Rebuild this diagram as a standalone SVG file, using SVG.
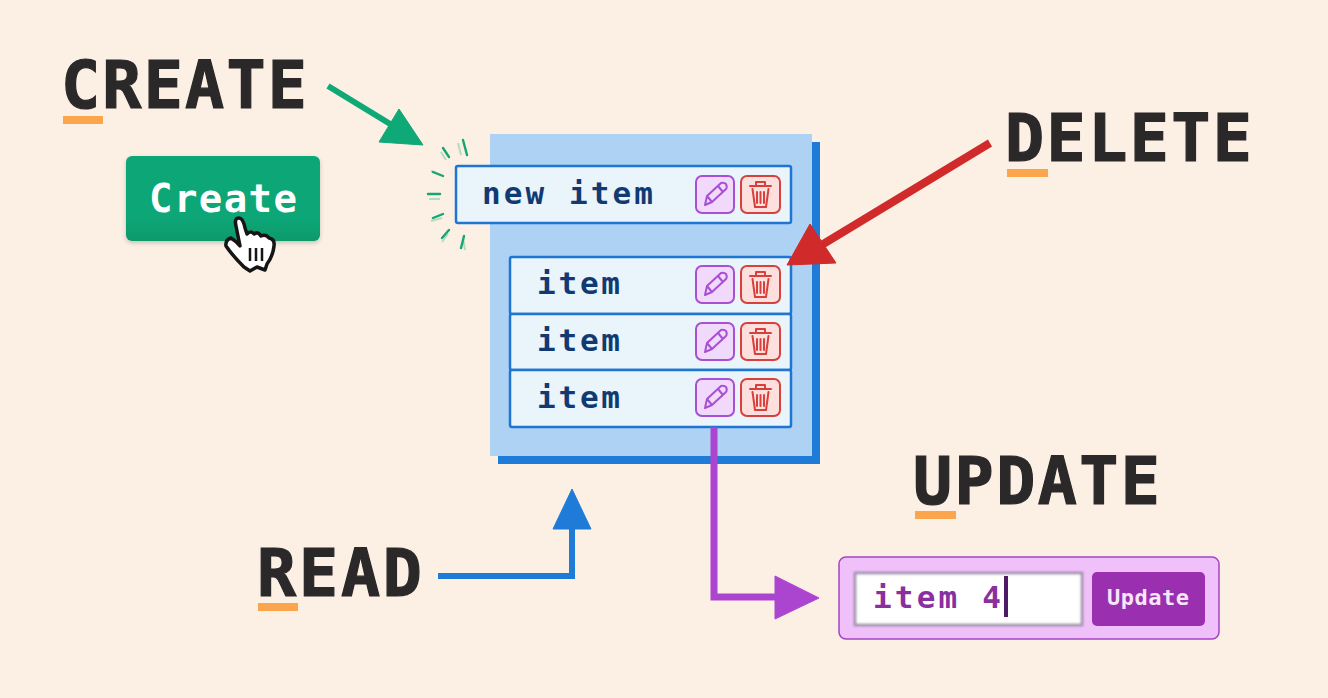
<svg xmlns="http://www.w3.org/2000/svg" width="1328" height="698" viewBox="0 0 1328 698">
<style>
.h{font-family:"DejaVu Sans Mono","Liberation Mono",monospace;font-weight:700;font-size:65px;fill:#2b2829;stroke:#2b2829;stroke-width:1.2}
.m{font-family:"DejaVu Sans Mono","Liberation Mono",monospace;font-weight:700}
.it{font-size:31px;fill:#123a72}
.row{fill:#e9f4fb;stroke:#1f75d2;stroke-width:2.5}
.ul{fill:#fba64c}
.pb{fill:#f0d9fb;stroke:#a94fd4;stroke-width:2}
.pi{fill:none;stroke:#a94fd4;stroke-width:2;stroke-linejoin:round}
.db{fill:#fde0de;stroke:#d8403c;stroke-width:2}
.di{fill:none;stroke:#d8403c;stroke-width:2;stroke-linejoin:round;stroke-linecap:round}
.sp{stroke:#14a673;stroke-width:2.4;stroke-linecap:round}
.sq{stroke:#14a673;stroke-width:2;opacity:.3}
</style>
<defs>
<linearGradient id="g" x1="0" y1="0" x2="0" y2="1"><stop offset="0" stop-color="#0ea777"/><stop offset=".7" stop-color="#0ea777"/><stop offset="1" stop-color="#0b9a6b"/></linearGradient>
<filter id="s" x="-10%" y="-10%" width="120%" height="130%"><feDropShadow dx="0" dy="2" stdDeviation="2" flood-color="#000" flood-opacity=".2"/></filter>
<filter id="b" x="-5%" y="-10%" width="110%" height="120%"><feGaussianBlur stdDeviation=".9"/></filter>
<g id="icons">
<rect class="pb" x="696" y="176" width="38" height="37" rx="6"/>
<path class="pi" d="M705 205 L707 196 L721 183 Q724 182 726 184 Q727.500 187 726 189 L712 202 Z M707 196 L712 202 M718 186 L723 192"/>
<rect class="db" x="741" y="176" width="39" height="37" rx="6"/>
<path class="di" d="M750 186 H771 M756 186 V182 H765 V186 M752.500 189 L755 207 H766 L768.500 189 M757 192 V203 M760.500 192 V203 M764 192 V203"/>
</g>
</defs>
<rect width="1328" height="698" fill="#fcf0e5"/>

<g id="create-label"><text class="h" x="61" y="108" textLength="246" lengthAdjust="spacing">CREATE</text><rect class="ul" x="63" y="116" width="40" height="8"/></g>
<g id="delete-label"><text class="h" x="1005" y="161" textLength="247" lengthAdjust="spacing">DELETE</text><rect class="ul" x="1007" y="169" width="41" height="8"/></g>
<g id="read-label"><text class="h" x="257" y="596" textLength="165" lengthAdjust="spacing">READ</text><rect class="ul" x="258" y="603" width="40" height="8"/></g>
<g id="update-label"><text class="h" x="913" y="504" textLength="247" lengthAdjust="spacing">UPDATE</text><rect class="ul" x="915" y="511" width="41" height="8"/></g>

<g id="create-button">
<rect x="126" y="156" width="194" height="85" rx="6" fill="url(#g)" filter="url(#s)"/>
<text class="m" x="149" y="212" font-size="39" fill="#fff" textLength="148" lengthAdjust="spacing">Create</text>
<path d="M236 226 Q234 218 239 218 Q243 218 245 228 L247 234 Q251 230 254 234 Q258 231 261 236 Q266 234 269 238 Q275 239 274 246 Q273 256 267 264 L265 270 L257 267 L250 271 L244 267 Q232 255 226 246 Q225 240 231 238 Q236 241 240 246 Z" fill="#fff" stroke="#151515" stroke-width="3.500" stroke-linejoin="round"/>
<path d="M250 248 V261 M256 248 V261 M262 248 V261" stroke="#151515" stroke-width="2.500" fill="none"/>
</g>

<g id="list">
<rect x="498" y="142" width="322" height="322" fill="#1f7bd8"/>
<rect x="490" y="134" width="322" height="322" fill="#aed2f4"/>
</g>

<g id="sparks">
<path class="sq" d="M458 143 L461 155 M441 152 L446 160 M431 171 L441 175 M429 199 L440 199 M431 221 L442 218 M442 242 L448 234 M465 250 L463 238"/>
<path class="sp" d="M463 140 L467 155 M443 148 L449 157 M433 172 L443 176 M428 194 L440 194 M433 218 L443 214 M442 238 L449 230 M461 248 L464 236"/>
</g>

<g id="row-new"><rect class="row" x="456" y="166" width="335" height="57" rx="2"/><text class="m it" x="482" y="204" textLength="171" lengthAdjust="spacing">new item</text><use href="#icons"/></g>
<g id="row-1"><rect class="row" x="510" y="257" width="281" height="57" rx="2"/><text class="m it" x="537" y="294" textLength="83" lengthAdjust="spacing">item</text><use href="#icons" y="90"/></g>
<g id="row-2"><rect class="row" x="510" y="314" width="281" height="56" rx="2"/><text class="m it" x="537" y="351" textLength="83" lengthAdjust="spacing">item</text><use href="#icons" y="147"/></g>
<g id="row-3"><rect class="row" x="510" y="370" width="281" height="57" rx="2"/><text class="m it" x="537" y="408" textLength="83" lengthAdjust="spacing">item</text><use href="#icons" y="203"/></g>

<g id="update-form">
<rect x="839" y="557" width="380" height="82" rx="7" fill="#efc0f9" stroke="#a544c4" stroke-width="1.500"/>
<rect x="855" y="573" width="227" height="52" fill="#fff"/>
<rect x="855" y="573" width="227" height="52" fill="none" stroke="#9a8ca6" stroke-width="2.500" filter="url(#b)"/>
<text class="m" x="873" y="608" font-size="31" fill="#8a2f9e" textLength="128" lengthAdjust="spacing">item 4</text>
<rect x="1004" y="576" width="4" height="41" fill="#4e1a68"/>
<rect x="1092" y="572" width="113" height="54" rx="5" fill="#9a2fb0"/>
<text class="m" x="1107" y="605" font-size="22" fill="#f6e6fa" textLength="82" lengthAdjust="spacing">Update</text>
</g>

<g id="connectors">
<path d="M328 86 L400 130" stroke="#0fa877" stroke-width="6" fill="none"/>
<path d="M423 145 L379 142 L399 109 Z" fill="#0fa877" stroke="#0fa877" stroke-linejoin="round"/>
<path d="M990 143 L815 249" stroke="#d12a2a" stroke-width="8" fill="none"/>
<path d="M787 265 L810 224 L836 263 Z" fill="#d12a2a" stroke="#d12a2a" stroke-linejoin="round"/>
<path d="M438 576 H572 V525" stroke="#1f7bd8" stroke-width="6" fill="none"/>
<path d="M572 489 L591 529 L553 529 Z" fill="#1f7bd8" stroke="#1f7bd8" stroke-linejoin="round"/>
<path d="M714 427 V597 H780" stroke="#ab45cf" stroke-width="7" fill="none"/>
<path d="M819 598 L775 576 L775 619 Z" fill="#ab45cf" stroke="#ab45cf" stroke-linejoin="round"/>
</g>
</svg>
